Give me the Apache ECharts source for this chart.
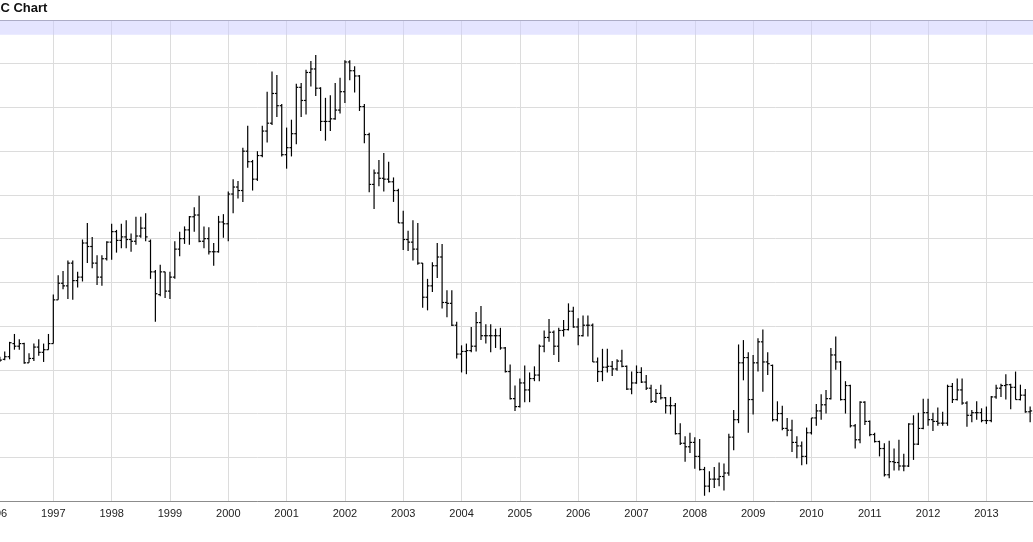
<!DOCTYPE html>
<html>
<head>
<meta charset="utf-8">
<script src="https://cdn.jsdelivr.net/npm/echarts@6/dist/echarts.min.js"></script>
<style>
html,body{margin:0;padding:0;background:#fff;}
#chart{width:1033px;height:542px;}
</style>
</head>
<body>
<div id="chart"></div>
<script>
// Title and axis range
const titleText = 'OHLC Chart';
const firstYear = 1996;

// Monthly bars, one row per month: [open, high, low, close]
const y1996 = [null,
  [86.2,86.5,85.9,86.1],[86.2,87.1,86.1,86.5],[86.5,88.2,86.2,88.1],[88.0,89.1,87.3,87.7],
  [87.7,88.5,87.3,88.0],[88.0,88.1,85.7,85.8],[85.8,86.9,85.8,86.3],[86.3,88.0,86.0,87.6],
  [87.6,88.5,86.6,87.0],[87.0,88.0,85.9,87.3],[87.3,89.1,87.3,88.0]];
const y1997 = [
  [88.0,93.6,88.0,93.0],[93.0,95.8,93.0,94.9],[94.9,96.3,94.2,94.6],[94.6,97.5,93.1,97.2],
  [97.2,97.5,93.0,95.2],[95.2,96.2,94.4,95.6],[95.6,99.9,95.1,99.5],[99.5,101.8,97.2,99.1],
  [99.1,100.2,96.6,97.2],[97.2,98.1,94.7,95.6],[95.6,98.1,94.6,97.7],[97.7,99.7,97.5,99.6]];
const y1998 = [
  [99.6,101.7,97.6,100.8],[100.8,101.0,98.4,99.8],[99.8,101.7,98.9,100.2],[100.2,102.1,98.9,99.9],
  [99.9,100.6,98.5,99.7],[99.7,102.5,99.3,100.3],[100.3,102.5,100.1,101.2],[101.2,102.9,99.7,100.2],
  [99.7,99.9,95.4,96.2],[96.2,96.4,90.5,93.7],[93.6,97.0,93.4,96.2],[96.2,96.2,93.2,94.0]];
const y1999 = [
  [94.0,96.2,93.1,95.6],[95.6,99.7,95.4,98.8],[98.8,100.8,98.0,100.0],[100.0,101.4,99.4,101.0],
  [101.0,102.6,99.3,102.5],[102.5,103.6,100.8,102.7],[102.7,104.9,99.6,99.7],[99.7,101.4,98.9,100.0],
  [100.0,101.3,98.2,98.5],[98.5,99.5,96.9,98.5],[98.5,102.6,98.4,101.9],[101.9,102.8,100.1,101.7]];
const y2000 = [
  [101.7,105.4,99.7,105.1],[105.1,106.8,102.9,105.9],[105.9,106.6,104.6,105.5],[105.5,110.4,104.2,110.0],
  [110.0,112.9,108.1,108.8],[108.8,109.0,105.5,106.8],[106.8,110.0,106.6,109.5],[109.5,112.9,109.3,112.3],
  [112.3,116.8,111.0,113.2],[113.2,119.1,113.0,116.6],[116.6,118.7,113.9,115.2],[115.2,115.4,109.4,109.6]];
const y2001 = [
  [109.6,112.7,108.0,110.4],[110.4,113.6,109.4,112.0],[112.0,117.7,110.8,117.3],[117.3,117.8,113.9,115.8],
  [115.8,119.3,114.2,119.0],[119.0,120.3,117.4,119.4],[119.4,121.0,116.3,117.2],[117.2,117.3,112.3,113.4],
  [113.4,116.1,111.2,113.4],[113.4,116.4,112.3,113.7],[113.7,117.8,113.6,114.7],[114.7,118.4,114.3,116.8]];
const y2002 = [
  [116.8,120.4,115.5,120.2],[120.2,120.4,118.1,119.2],[119.2,119.7,116.7,118.6],[118.6,118.7,114.6,115.1],
  [115.1,115.4,110.9,111.9],[111.9,112.1,105.3,106.2],[106.2,107.9,103.4,107.5],[107.5,109.0,106.0,106.9],
  [106.9,109.8,105.4,106.8],[106.8,108.8,106.4,106.5],[106.5,107.0,104.2,105.5],[105.5,105.7,101.8,101.8]];
const y2003 = [
  [101.8,103.2,98.7,99.9],[99.9,100.9,98.6,99.6],[99.6,102.1,97.5,98.8],[98.8,101.8,97.0,97.2],
  [97.2,97.2,92.1,93.3],[93.3,95.4,91.8,94.6],[94.6,97.3,93.9,96.9],[96.9,99.5,95.5,97.9],
  [97.9,99.4,92.0,92.7],[92.7,94.1,91.0,92.6],[92.6,94.1,90.0,90.1],[90.1,90.5,86.3,86.8]];
const y2004 = [
  [86.8,87.8,84.7,87.1],[87.1,88.0,84.5,87.2],[87.2,89.9,87.0,87.7],[87.7,91.6,87.1,90.4],
  [90.4,92.3,88.4,88.9],[88.9,90.2,88.0,88.9],[88.9,90.2,87.0,88.9],[88.9,89.7,87.5,88.9],
  [88.9,89.8,87.3,87.5],[87.5,87.6,84.7,84.8],[84.8,85.6,81.6,81.7],[81.7,83.2,80.3,80.8]];
const y2005 = [
  [80.8,84.0,80.7,83.5],[83.5,85.5,81.3,82.7],[82.7,84.7,81.3,84.0],[84.0,85.4,83.7,84.4],
  [84.4,87.9,83.7,87.7],[87.7,89.5,87.0,88.7],[88.7,90.8,88.2,89.3],[89.3,89.5,86.7,87.7],
  [87.7,89.8,85.9,89.5],[89.5,90.7,88.8,89.6],[89.6,92.6,89.5,91.7],[91.7,92.2,89.8,89.9]];
const y2006 = [
  [89.9,90.9,87.8,88.9],[88.9,91.2,88.8,90.1],[90.1,91.2,88.8,90.1],[90.1,90.3,85.9,85.9],
  [85.9,86.4,83.6,84.8],[84.8,87.4,83.7,85.3],[85.3,87.4,84.7,85.4],[85.4,86.0,84.3,85.1],
  [85.1,86.2,84.9,86.0],[86.0,87.3,85.3,85.4],[85.4,85.5,82.7,82.8],[82.8,84.8,82.2,83.5]];
const y2007 = [
  [83.5,85.5,83.4,84.7],[84.7,85.3,83.5,83.6],[83.6,84.4,82.7,82.9],[82.9,83.3,81.2,81.4],
  [81.4,82.8,81.2,82.3],[82.3,83.3,81.6,81.8],[81.8,81.9,80.0,80.9],[80.9,81.9,79.9,80.9],
  [80.9,81.2,77.6,77.7],[77.7,78.9,76.4,76.6],[76.6,77.4,74.5,76.2],[76.2,77.8,75.5,76.7]];
const y2008 = [
  [76.7,77.3,73.7,75.1],[75.1,77.1,73.5,73.6],[73.6,73.9,70.6,71.7],[71.7,73.4,71.0,72.5],
  [72.5,73.9,71.5,72.5],[72.5,74.4,71.7,72.8],[72.8,74.3,71.2,73.2],[73.2,77.7,72.9,77.3],
  [77.3,80.4,75.8,79.3],[79.3,87.9,78.9,85.8],[85.8,88.4,83.8,86.4],[86.4,87.0,77.8,81.6]];
const y2009 = [
  [81.6,86.7,79.9,85.8],[85.8,88.6,84.8,88.2],[88.2,89.6,82.5,85.9],[85.9,87.0,84.4,85.7],
  [85.5,85.6,79.1,79.3],[79.3,81.4,79.1,80.0],[80.0,80.9,78.1,78.3],[78.3,79.5,77.4,78.1],
  [78.1,79.3,75.6,76.7],[76.7,77.4,74.9,76.3],[76.3,76.8,74.1,75.1],[75.1,78.4,74.2,77.8]];
const y2010 = [
  [77.8,79.5,77.6,79.5],[79.5,81.1,78.6,80.3],[80.3,82.2,79.3,81.0],[81.0,82.7,80.0,81.7],
  [81.7,87.5,81.6,86.7],[86.7,88.8,85.0,85.9],[85.9,86.0,81.5,81.6],[81.6,83.7,80.0,83.2],
  [83.2,83.3,78.4,78.6],[78.6,78.8,76.0,77.0],[77.0,81.4,76.6,81.3],[81.3,81.4,78.7,79.1]];
const y2011 = [
  [79.1,79.2,77.4,77.6],[77.6,77.8,76.7,76.8],[76.8,76.9,75.1,76.0],[76.0,76.6,72.8,73.0],
  [73.0,76.9,72.6,74.5],[74.5,76.0,73.5,74.4],[74.4,77.0,73.5,74.0],[74.0,75.4,73.4,74.0],
  [74.0,78.9,73.9,78.8],[78.8,79.8,74.7,76.5],[76.5,80.1,76.4,78.3],[78.3,81.7,78.2,80.1]];
const y2012 = [
  [80.1,81.7,78.6,79.3],[79.3,80.1,78.0,79.1],[79.1,80.7,78.6,78.9],[78.9,80.2,78.6,78.9],
  [78.9,83.3,78.6,83.1],[83.1,83.5,81.2,81.6],[81.6,84.0,81.5,82.7],[82.7,84.0,81.0,81.2],
  [81.2,81.4,78.5,79.8],[79.8,80.4,79.0,80.1],[80.1,81.4,79.3,80.1],[80.1,80.6,79.0,79.2]];
const y2013 = [
  [79.2,80.8,78.8,79.2],[79.2,82.0,79.0,81.9],[81.9,83.3,81.7,82.9],[82.9,83.4,81.9,83.2],
  [83.2,84.5,81.6,83.3],[83.3,83.4,80.5,83.0],[83.0,84.8,81.6,81.6],[81.6,83.3,81.5,82.1],
  [82.1,82.8,80.1,80.2],[80.2,80.8,79.0,80.3],null];

// Y scale
const yMin = 70, yMax = 125, yStep = 5;
const bandFrom = 123.3; // shaded band at the top of the plot

const years = [y1996,y1997,y1998,y1999,y2000,y2001,y2002,y2003,y2004,y2005,y2006,y2007,y2008,y2009,y2010,y2011,y2012,y2013];

const months = [];
const rows = [];
years.forEach((arr, yi) => {
  const yr = firstYear + yi;
  arr.forEach((r, mi) => {
    const m = mi + 1;
    months.push(yr + '-' + (m < 10 ? '0' + m : '' + m));
    rows.push(r);
  });
});
const seriesData = rows.map((r, i) => r ? [i, r[0], r[1], r[2], r[3]] : [i, '-', '-', '-', '-']);

const isJan = (idx, val) => /-01$/.test(val);

const chart = echarts.init(document.getElementById('chart'), null, {renderer: 'canvas'});
const FONT = '"Liberation Sans", Arial, sans-serif';

chart.setOption({
  animation: false,
  backgroundColor: '#ffffff',
  title: {
    text: titleText,
    left: -32,
    top: -3,
    textStyle: {fontFamily: FONT, fontSize: 13, fontWeight: 'bold', color: '#111'}
  },
  grid: {left: -5, right: -2, top: 20, bottom: 41, outerBoundsMode: 'none', containLabel: false},
  xAxis: [{
    type: 'category',
    data: months,
    boundaryGap: false,
    axisLine: {lineStyle: {color: '#8c8c8c', width: 1}},
    axisTick: {show: false},
    axisLabel: {
      interval: isJan,
      formatter: v => v.slice(0, 4),
      fontFamily: FONT, fontSize: 11, color: '#222', margin: 7
    },
    splitLine: {show: true, interval: isJan, lineStyle: {color: '#dcdcdc', width: 1}}
  }, {
    type: 'category',
    data: months,
    position: 'top',
    boundaryGap: false,
    axisLine: {lineStyle: {color: '#8c8c8c', width: 1.2}},
    axisTick: {show: false},
    axisLabel: {show: false},
    splitLine: {show: false}
  }],
  yAxis: {
    type: 'value',
    min: yMin, max: yMax, interval: yStep,
    axisLine: {show: false},
    axisTick: {show: false},
    axisLabel: {show: false},
    splitLine: {lineStyle: {color: '#dcdcdc', width: 1}}
  },
  series: [{
    type: 'custom',
    xAxisIndex: 0,
    clip: true,
    encode: {x: 0, y: [1, 2, 3, 4]},
    data: seriesData,
    renderItem: function (params, api) {
      const x = api.value(0);
      const o = api.value(1), h = api.value(2), l = api.value(3), c = api.value(4);
      if (isNaN(o) || isNaN(h)) return null;
      const po = api.coord([x, o]);
      const ph = api.coord([x, h]);
      const pl = api.coord([x, l]);
      const pc = api.coord([x, c]);
      const w = 2;
      const st = {stroke: '#000', lineWidth: 1.2};
      return {
        type: 'group',
        children: [
          {type: 'line', shape: {x1: ph[0], y1: ph[1], x2: pl[0], y2: pl[1]}, style: st},
          {type: 'line', shape: {x1: po[0] - w, y1: po[1], x2: po[0], y2: po[1]}, style: st},
          {type: 'line', shape: {x1: pc[0], y1: pc[1], x2: pc[0] + w, y2: pc[1]}, style: st}
        ]
      };
    },
    markArea: {
      silent: true,
      itemStyle: {color: 'rgba(204,204,255,0.5)'},
      data: [[{yAxis: bandFrom}, {yAxis: yMax}]]
    }
  }]
});
</script>
</body>
</html>
